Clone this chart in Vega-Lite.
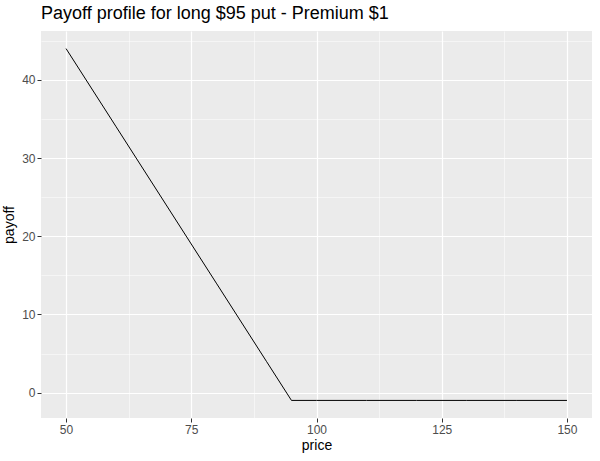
{
  "$schema": "https://vega.github.io/schema/vega-lite/v6.json",
  "width": 551,
  "height": 387,
  "autosize": {"type": "none"},
  "padding": {"left": 41, "top": 31, "right": 8, "bottom": 43},
  "background": "white",
  "title": {
    "text": "Payoff profile for long $95 put - Premium $1",
    "anchor": "start",
    "frame": "group",
    "font": "Liberation Sans",
    "fontSize": 18,
    "fontWeight": "normal",
    "color": "black",
    "offset": 8
  },
  "config": {
    "view": {"fill": "#EBEBEB", "stroke": null},
    "axis": {
      "domain": false,
      "gridColor": "white",
      "labelFont": "Liberation Sans",
      "labelFontSize": 12,
      "labelColor": "#4D4D4D",
      "titleFont": "Liberation Sans",
      "titleFontSize": 14,
      "titleFontWeight": "normal",
      "titleColor": "black",
      "tickColor": "#333333",
      "tickSize": 4,
      "labelPadding": 2
    }
  },
  "data": {
    "values": [
      {"price": 50, "payoff": 44},
      {"price": 60, "payoff": 34},
      {"price": 70, "payoff": 24},
      {"price": 80, "payoff": 14},
      {"price": 90, "payoff": 4},
      {"price": 95, "payoff": -1},
      {"price": 100, "payoff": -1},
      {"price": 110, "payoff": -1},
      {"price": 120, "payoff": -1},
      {"price": 130, "payoff": -1},
      {"price": 140, "payoff": -1},
      {"price": 150, "payoff": -1}
    ]
  },
  "mark": {"type": "line", "color": "black", "strokeWidth": 1},
  "encoding": {
    "x": {
      "field": "price",
      "type": "quantitative",
      "scale": {"domain": [45, 155], "nice": false, "zero": false},
      "axis": {
        "title": "price",
        "titlePadding": 3,
        "values": [50, 62.5, 75, 87.5, 100, 112.5, 125, 137.5, 150],
        "labelExpr": "datum.value % 25 == 0 ? datum.label : ''",
        "gridWidth": {"condition": {"test": "datum.value % 25 == 0", "value": 1.2}, "value": 0.5},
        "tickOpacity": {"condition": {"test": "datum.value % 25 == 0", "value": 1}, "value": 0}
      }
    },
    "y": {
      "field": "payoff",
      "type": "quantitative",
      "scale": {"domain": [-3.25, 46.25], "nice": false, "zero": false},
      "axis": {
        "title": "payoff",
        "titlePadding": 5,
        "values": [0, 5, 10, 15, 20, 25, 30, 35, 40, 45],
        "labelExpr": "datum.value % 10 == 0 ? datum.label : ''",
        "gridWidth": {"condition": {"test": "datum.value % 10 == 0", "value": 1.2}, "value": 0.5},
        "tickOpacity": {"condition": {"test": "datum.value % 10 == 0", "value": 1}, "value": 0}
      }
    }
  }
}
